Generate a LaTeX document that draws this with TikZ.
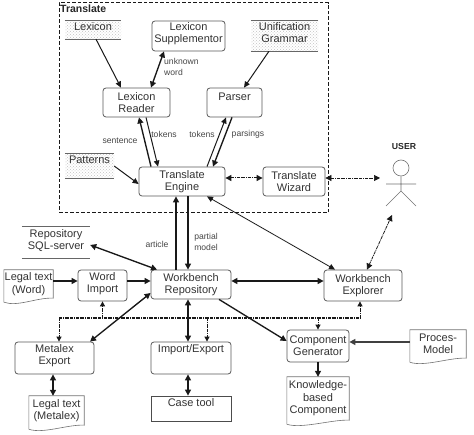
\documentclass[tikz,border=0pt]{standalone}
\usepackage{fontspec}
\setmainfont{Liberation Sans}
\usetikzlibrary{arrows.meta,patterns}
\newcommand{\nudge}{\\[-6pt]~}
\newcommand{\rules}[1]{\draw[rulegray] (#1.north west) -- (#1.north east) (#1.south west) -- (#1.south east);}
\newcommand{\paper}[1]{\draw[papergray] (#1.north west) -- ([yshift=-4pt]#1.south west) .. controls ([xshift=14pt,yshift=-9pt]#1.south west) and ([xshift=-16pt,yshift=1pt]#1.south east) .. (#1.south east) -- (#1.north east) -- cycle;}
\tikzset{
  lbl/.style={font=\fontsize{11}{12.4}\selectfont,text=black!80,align=center,inner sep=0pt},
  rbox/.style={lbl,draw=black!65,line width=.8pt,rounded corners=3pt},
  sbox/.style={lbl,draw=black!70,line width=.8pt},
  plain/.style={lbl},
  dotted fill/.style={lbl,pattern=crosshatch dots,pattern color=black!24},
  rulegray/.style={draw=black!60,line width=.7pt},
  papergray/.style={draw=black!55,line width=.6pt},
  small/.style={font=\fontsize{8.6}{10.4}\selectfont,text=black!72,align=left,inner sep=0pt},
  heavy/.style={draw=black!90,line width=1.35pt,-{Triangle[length=6pt,width=6pt]}},
  heavyboth/.style={draw=black!90,line width=1.35pt,{Triangle[length=6pt,width=6pt]}-{Triangle[length=6pt,width=6pt]}},
  medium/.style={draw=black!90,line width=1pt,-{Triangle[length=6pt,width=5.5pt]}},
  mediumboth/.style={draw=black!90,line width=1pt,{Triangle[length=6pt,width=5.5pt]}-{Triangle[length=6pt,width=5.5pt]}},
  busline/.style={draw=black!90,line width=.9pt,dash pattern=on 3pt off .8pt on 1pt off .8pt},
  busarrow/.style={busline,-{Triangle[length=5pt,width=5pt]}},
  busboth/.style={busline,{Triangle[length=6pt,width=6pt]}-{Triangle[length=6pt,width=6pt]}},
  figure/.style={draw=black!55,line width=.6pt},
}
\begin{document}
\begin{tikzpicture}[x=1pt,y=-1pt]
\useasboundingbox[fill=white] (0,0) rectangle (474,435);
% frame
\node[draw=black!90,line width=1pt,dash pattern=on 3.5pt off 2pt,minimum width=269pt,minimum height=210pt,inner sep=0pt] (frame) at (193.5,108) {};
\node[anchor=west,inner sep=0pt,font=\fontsize{10.5}{12}\selectfont\bfseries,text=black!85] (ttl) at (60,9) {Translate};
% translate group
\node[dotted fill,minimum width=56pt,minimum height=18pt] (lex) at (93,30) {Lexicon\nudge};
\node[rbox,minimum width=73pt,minimum height=30pt] (sup) at (188.5,36) {Lexicon\\Supplementor\nudge};
\node[dotted fill,minimum width=67pt,minimum height=30pt] (uni) at (284.5,36) {Unification\\Grammar\nudge};
\node[rbox,minimum width=67pt,minimum height=29pt] (rdr) at (136.5,102.5) {Lexicon\\Reader};
\node[rbox,minimum width=55pt,minimum height=29pt] (par) at (234.5,102.5) {Parser\\~};
\node[dotted fill,minimum width=49pt,minimum height=24pt] (pat) at (89.5,166) {Patterns\\~};
\node[rbox,minimum width=86pt,minimum height=29pt] (eng) at (182,181.5) {Translate\\Engine};
\node[rbox,minimum width=62pt,minimum height=29pt] (wiz) at (294,181.5) {Translate\\Wizard};
\rules{lex}\rules{uni}\rules{pat}
% lower nodes
\node[plain,minimum width=68pt,minimum height=31pt] (rep) at (56,242.5) {Repository\\SQL-server\nudge};
\rules{rep}
\node[lbl,minimum width=49pt,minimum height=28pt] (lw) at (28.5,284) {Legal text\\(Word)};
\paper{lw}
\node[rbox,minimum width=49pt,minimum height=31pt] (wi) at (102.5,285.5) {Word\\Import\nudge};
\node[rbox,minimum width=80pt,minimum height=29pt] (wr) at (191,284.5) {Workbench\\Repository};
\node[rbox,minimum width=78pt,minimum height=31pt] (wx) at (363,285.5) {Workbench\\Explorer};
\node[rbox,minimum width=79pt,minimum height=32pt] (me) at (54.5,358) {Metalex\\Export\nudge};
\node[rbox,minimum width=80pt,minimum height=32pt] (ie) at (191,358) {Import/Export\\[6pt]~};
\node[rbox,minimum width=62pt,minimum height=32pt] (cg) at (318,346) {Component\\Generator};
\node[lbl,minimum width=56pt,minimum height=28pt] (pm) at (438,344) {Proces-\\Model};
\paper{pm}
\node[lbl,minimum width=55pt,minimum height=29pt] (lm) at (56.5,410.5) {Legal text\\(Metalex)};
\paper{lm}
\node[sbox,minimum width=80pt,minimum height=25pt] (ct) at (191,408.5) {Case tool\\[-1pt]~};
\node[lbl,minimum width=62pt,minimum height=43pt] (kb) at (318,398.5) {Knowledge-\\based\\Component};
\paper{kb}
% user
\node[inner sep=0pt,font=\fontsize{8.7}{10}\selectfont\bfseries,text=black!85] (utxt) at (404,147) {USER};
\node[circle,figure,minimum size=16pt,inner sep=0pt] (head) at (401,168) {};
\coordinate (hip) at (401,191);
\coordinate (armL) at (386,184);
\coordinate (armR) at (416,184);
\coordinate (legL) at (386,206);
\coordinate (legR) at (416,206);
\draw[figure] (head.south) -- (hip) (armL) -- (armR) (legL) -- (hip) -- (legR);
\coordinate (ua) at (380,178);
\coordinate (ub) at (392,215);
% arrows, translate group
\draw[medium] ([xshift=3pt]lex.south) -- ([xshift=-15.5pt]rdr.north);
\draw[heavyboth] ([xshift=-24.5pt]sup.south) -- ([xshift=14.5pt]rdr.north);
\draw[medium] ([xshift=-15.5pt]uni.south) -- ([xshift=9.5pt]par.north);
\draw[heavy] ([xshift=-31pt]eng.north) -- ([xshift=2.5pt]rdr.south);
\draw[medium] ([xshift=9.5pt]rdr.south) -- ([xshift=-24pt]eng.north);
\draw[medium] ([xshift=25pt]eng.north) -- ([xshift=-8.5pt]par.south);
\draw[heavy] ([xshift=-2.5pt]par.south) -- ([xshift=31pt]eng.north);
\draw[medium] (pat.east) -- ([yshift=-2.5pt]eng.west);
\draw[busboth,line width=1pt] ([yshift=3.5pt]eng.east) -- ([yshift=3.5pt]wiz.west);
\draw[busboth,line width=.7pt] ([yshift=3.5pt]wiz.east) -- (ua);
% arrows, lower part
\draw[mediumboth,line width=.8pt] ([xshift=25pt]eng.south) -- ([xshift=-28pt]wx.north);
\draw[heavy] ([xshift=-15pt]wr.north) -- ([xshift=-6pt]eng.south);
\draw[heavy] ([xshift=6pt]eng.south) -- ([xshift=-3pt]wr.north);
\draw[heavyboth] ([yshift=-2.5pt]rep.east) -- ([xshift=-34pt]wr.north);
\draw[heavy] ([yshift=3pt]lw.east) -- ([yshift=4.5pt]wi.west);
\draw[heavy] ([yshift=4.5pt]wi.east) -- ([yshift=3.5pt]wr.west);
\draw[heavyboth] ([yshift=3.5pt]wr.east) -- ([yshift=4.5pt]wx.west);
\draw[heavyboth] ([yshift=-8.5pt]wr.west) -- ([xshift=35.5pt]me.north);
\draw[heavyboth] ([xshift=-3pt]wr.south) -- ([xshift=-3pt]ie.north);
\draw[heavy] ([xshift=28pt]wr.south) -- ([yshift=5pt]cg.west);
\draw[heavyboth] ([xshift=-1.5pt]me.south) -- ([xshift=-3.5pt]lm.north);
\draw[heavyboth] ([xshift=-3pt]ie.south) -- ([xshift=-3pt]ct.north);
\draw[heavy] (cg.south) -- (kb.north);
\draw[heavy,draw=black!75,line width=1.8pt] ([yshift=2pt]pm.west) -- ([yshift=4pt]cg.east);
\draw[busboth,line width=.8pt] ([xshift=4pt]wx.north) -- (ub);
% status bus
\coordinate (busL) at (59,318);
\coordinate (busR) at (360,318);
\draw[busline,line width=1.1pt] (busL) -- (busR);
\draw[busarrow] (busL) -- ([xshift=4.5pt]me.north);
\draw[busarrow] (busR) -- ([xshift=-3pt]wx.south);
\coordinate (b1) at (102.5,318);
\coordinate (b2) at (207,318);
\coordinate (b3) at (318,318);
\draw[busarrow] (b1) -- (wi.south);
\draw[busarrow] (b2) -- ([xshift=16pt]ie.north);
\draw[busarrow] (b3) -- (cg.north);
% connector labels
\node[small,anchor=west] (l1) at (164,67) {unknown\\word};
\node[small] (l2) at (120,141) {sentence};
\node[small] (l3) at (164,134) {tokens};
\node[small] (l4) at (202,134) {tokens};
\node[small] (l5) at (248,134) {parsings};
\node[small] (l6) at (157,244) {article};
\node[small] (l7) at (206,242) {partial\\model};
\end{tikzpicture}
\end{document}
